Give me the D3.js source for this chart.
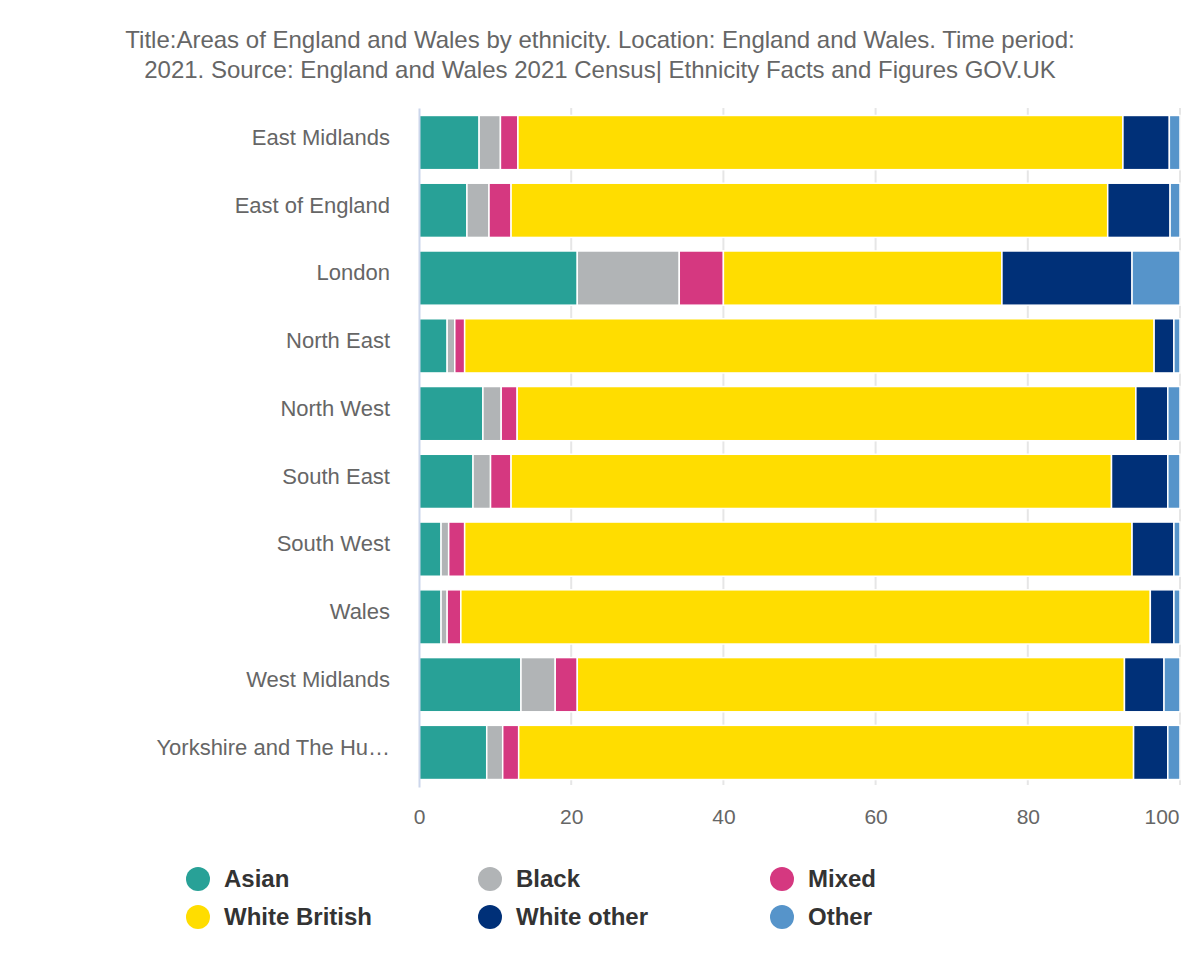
<!DOCTYPE html>
<html>
<head>
<meta charset="utf-8">
<script src="https://cdn.jsdelivr.net/npm/d3@7"></script>
<style>
  body { margin: 0; background: #fff; }
  text { font-family: "Liberation Sans", Arial, sans-serif; }
</style>
</head>
<body>
<div class="chart"></div>
<script>
// categories and series (percent of population)
const regions = ["East Midlands", "East of England", "London", "North East", "North West",
  "South East", "South West", "Wales", "West Midlands", "Yorkshire and The Hu\u2026"];
const seriesNames = ["Asian", "Black", "Mixed", "White British", "White other", "Other"];
const asian        = [7.9, 6.3, 20.8, 3.7, 8.4, 7.1, 2.9, 2.9, 13.4, 8.9];
const black        = [2.8, 2.9, 13.4, 1.0, 2.4, 2.3, 1.0, 0.8, 4.5, 2.1];
const mixed        = [2.3, 2.9, 5.8, 1.3, 2.1, 2.7, 2.1, 1.8, 2.9, 2.1];
const whiteBritish = [79.5, 78.4, 36.6, 90.6, 81.3, 78.9, 87.7, 90.6, 71.9, 80.8];
const whiteOther   = [6.1, 8.2, 17.1, 2.6, 4.2, 7.4, 5.5, 3.1, 5.2, 4.5];
const other        = [1.4, 1.3, 6.3, 0.8, 1.6, 1.6, 0.8, 0.8, 2.1, 1.6];
const xTicks = [0, 20, 40, 60, 80, 100];
const colors = ["#28a197", "#b1b4b6", "#d53880", "#ffdd00", "#003078", "#5694ca"];
const titleLines = [
  "Title:Areas of England and Wales by ethnicity. Location: England and Wales. Time period:",
  "2021. Source: England and Wales 2021 Census| Ethnicity Facts and Figures GOV.UK"
];

const W = 1200, H = 980;
const margin = {top: 108, left: 419};
const innerW = 1180 - margin.left, innerH = 679;

const rows = regions.map((r, i) => ({
  region: r,
  "Asian": asian[i], "Black": black[i], "Mixed": mixed[i],
  "White British": whiteBritish[i], "White other": whiteOther[i], "Other": other[i]
}));
const stacked = d3.stack().keys(seriesNames)(rows);

const svg = d3.select(".chart").append("svg")
  .attr("width", W)
  .attr("height", H);

svg.append("g")
  .selectAll("text")
  .data(titleLines)
  .enter().append("text")
  .attr("x", W / 2)
  .attr("y", (d, i) => 48 + i * 30)
  .attr("text-anchor", "middle")
  .style("font-size", "24px")
  .style("fill", "#666")
  .text(d => d);

const g = svg.append("g")
  .attr("transform", "translate(" + margin.left + "," + margin.top + ")");

const x = d3.scaleLinear().domain([0, 100]).range([0, innerW]);
const y = d3.scaleBand().domain(regions).range([0, innerH]).paddingInner(0.2).paddingOuter(0.11);

// gridlines
g.append("g")
  .selectAll("line")
  .data(xTicks.slice(1))
  .enter().append("line")
  .attr("x1", d => x(d))
  .attr("x2", d => x(d))
  .attr("y1", 0)
  .attr("y2", innerH - 2)
  .style("stroke", "#e6e6e6")
  .style("stroke-width", 2);

// bars
g.append("g")
  .selectAll("g")
  .data(stacked)
  .enter().append("g")
  .style("fill", (d, i) => colors[i])
  .selectAll("rect")
  .data(d => d)
  .enter().append("rect")
  .attr("x", d => x(d[0]))
  .attr("y", d => y(d.data.region))
  .attr("width", d => Math.max(0, x(d[1]) - x(d[0])))
  .attr("height", y.bandwidth())
  .style("stroke", "#fff")
  .style("stroke-width", 1.5);

// y axis
const yAxis = g.append("g").call(d3.axisLeft(y).tickSize(0).tickPadding(29));
yAxis.select(".domain").style("stroke", "#ccd6eb").style("stroke-width", 2);
yAxis.selectAll("text")
  .attr("dy", "0.1em")
  .style("font-size", "22px")
  .style("fill", "#666");

// x axis
const xAxis = g.append("g")
  .attr("transform", "translate(0," + innerH + ")")
  .call(d3.axisBottom(x).tickValues(xTicks).tickSize(0).tickPadding(22));
xAxis.select(".domain").remove();
xAxis.selectAll("text")
  .style("font-size", "21px")
  .style("fill", "#666")
  .attr("text-anchor", d => d === 100 ? "end" : "middle")
  .attr("x", d => d === 100 ? -1 : 0);

// legend
const legend = svg.append("g")
  .selectAll("g")
  .data(seriesNames)
  .enter().append("g")
  .attr("transform", (d, i) => "translate(" + (198 + (i % 3) * 292) + "," + (879 + Math.floor(i / 3) * 38) + ")");

legend.append("circle")
  .attr("r", 12)
  .style("fill", (d, i) => colors[i]);

legend.append("text")
  .attr("x", 26)
  .attr("dy", "0.35em")
  .style("font-size", "24px")
  .style("font-weight", "bold")
  .style("fill", "#333")
  .text(d => d);
</script>
</body>
</html>
